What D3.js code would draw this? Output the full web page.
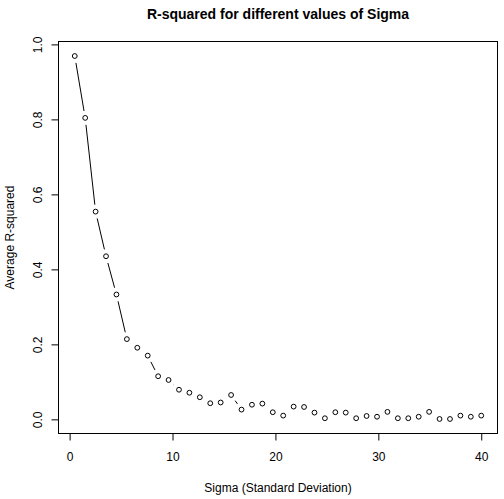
<!DOCTYPE html>
<html>
<head>
<meta charset="utf-8">
<script src="https://cdn.jsdelivr.net/npm/d3@7"></script>
<style>
  body { margin: 0; background: #fff; }
  svg text { font-family: "Liberation Sans", Arial, sans-serif; fill: #000; }
</style>
</head>
<body>
<div id="chart"></div>
<script>
// sigma: 40 evenly spaced values from 0.5 to 40
var sigmaFirst = 0.5, sigmaLast = 40, sigmaCount = 40;
var avgRSquared = [
  0.969, 0.804, 0.554, 0.435, 0.333, 0.214, 0.191, 0.170, 0.115, 0.105,
  0.079, 0.071, 0.059, 0.043, 0.045, 0.065, 0.026, 0.039, 0.042, 0.019,
  0.010, 0.034, 0.033, 0.018, 0.003, 0.019, 0.018, 0.003, 0.009, 0.007,
  0.020, 0.003, 0.003, 0.007, 0.020, 0.001, 0.001, 0.010, 0.007, 0.010
];
var xTicks = [0, 10, 20, 30, 40];
var yTicks = [0.0, 0.2, 0.4, 0.6, 0.8, 1.0];

var opt = {
  width: 504,
  height: 499,
  left: 58.5,
  right: 497.5,
  top: 41.5,
  bottom: 433.5,
  tickLen: 7,
  pointR: 2.4,
  gap: 7 // type="b" gap around each point
};

var step = (sigmaLast - sigmaFirst) / (sigmaCount - 1);
var data = avgRSquared.map(function (v, i) {
  return { sigma: sigmaFirst + i * step, r2: v };
});

// R style 4% padding of the data range
function pad(ext) {
  var d = (ext[1] - ext[0]) * 0.04;
  return [ext[0] - d, ext[1] + d];
}

var x = d3.scaleLinear()
  .domain(pad(d3.extent(data, function (d) { return d.sigma; })))
  .range([opt.left, opt.right]);
var y = d3.scaleLinear()
  .domain(pad(d3.extent(data, function (d) { return d.r2; })))
  .range([opt.bottom, opt.top]);

var svg = d3.select('#chart').append('svg')
  .attr('width', opt.width)
  .attr('height', opt.height);

// 标题
svg.append('text')
  .attr('x', (opt.left + opt.right) / 2)
  .attr('y', 19)
  .attr('text-anchor', 'middle')
  .style('font-size', '14px')
  .style('font-weight', 'bold')
  .text('R-squared for different values of Sigma');

// x轴
var xAxis = svg.append('g')
  .attr('transform', 'translate(0,' + opt.bottom + ')')
  .call(d3.axisBottom(x).tickValues(xTicks).tickSize(opt.tickLen).tickPadding(12).tickFormat(d3.format('d')));
xAxis.select('.domain').remove();
xAxis.append('line')
  .attr('x1', x(xTicks[0])).attr('x2', x(xTicks[xTicks.length - 1]))
  .attr('stroke', '#000');
xAxis.selectAll('text').style('font-size', '12px').attr('fill', '#000');

// y轴
var yAxis = svg.append('g')
  .attr('transform', 'translate(' + opt.left + ',0)')
  .call(d3.axisLeft(y).tickValues(yTicks).tickSize(opt.tickLen).tickFormat(d3.format('.1f')));
yAxis.select('.domain').remove();
yAxis.append('line')
  .attr('y1', y(yTicks[0])).attr('y2', y(yTicks[yTicks.length - 1]))
  .attr('stroke', '#000');
yAxis.selectAll('.tick text')
  .style('font-size', '12px')
  .attr('fill', '#000')
  .attr('x', null).attr('dy', null)
  .attr('text-anchor', 'middle')
  .attr('transform', 'translate(-17,0) rotate(-90)');

// 外框
svg.append('rect')
  .attr('x', opt.left).attr('y', opt.top)
  .attr('width', opt.right - opt.left).attr('height', opt.bottom - opt.top)
  .attr('fill', 'none').attr('stroke', '#000');

// 轴标题
svg.append('text')
  .attr('x', (opt.left + opt.right) / 2)
  .attr('y', 492)
  .attr('text-anchor', 'middle')
  .style('font-size', '12px')
  .text('Sigma (Standard Deviation)');
svg.append('text')
  .attr('transform', 'translate(14,' + (opt.top + opt.bottom) / 2 + ') rotate(-90)')
  .attr('text-anchor', 'middle')
  .style('font-size', '12px')
  .text('Average R-squared');

// 线段 (点之间留空)
for (var i = 1; i < data.length; i++) {
  var x0 = x(data[i - 1].sigma), y0 = y(data[i - 1].r2);
  var x1 = x(data[i].sigma), y1 = y(data[i].r2);
  var len = Math.sqrt((x1 - x0) * (x1 - x0) + (y1 - y0) * (y1 - y0));
  if (len <= 2 * opt.gap) continue;
  var ux = (x1 - x0) / len, uy = (y1 - y0) / len;
  svg.append('line')
    .attr('x1', x0 + ux * opt.gap).attr('y1', y0 + uy * opt.gap)
    .attr('x2', x1 - ux * opt.gap).attr('y2', y1 - uy * opt.gap)
    .attr('stroke', '#000').attr('stroke-width', 1);
}

// 圆点
svg.selectAll('circle.pt').data(data).enter().append('circle')
  .attr('class', 'pt')
  .attr('cx', function (d) { return x(d.sigma); })
  .attr('cy', function (d) { return y(d.r2); })
  .attr('r', opt.pointR)
  .attr('fill', 'none')
  .attr('stroke', '#000')
  .attr('stroke-width', 1);
</script>
</body>
</html>
